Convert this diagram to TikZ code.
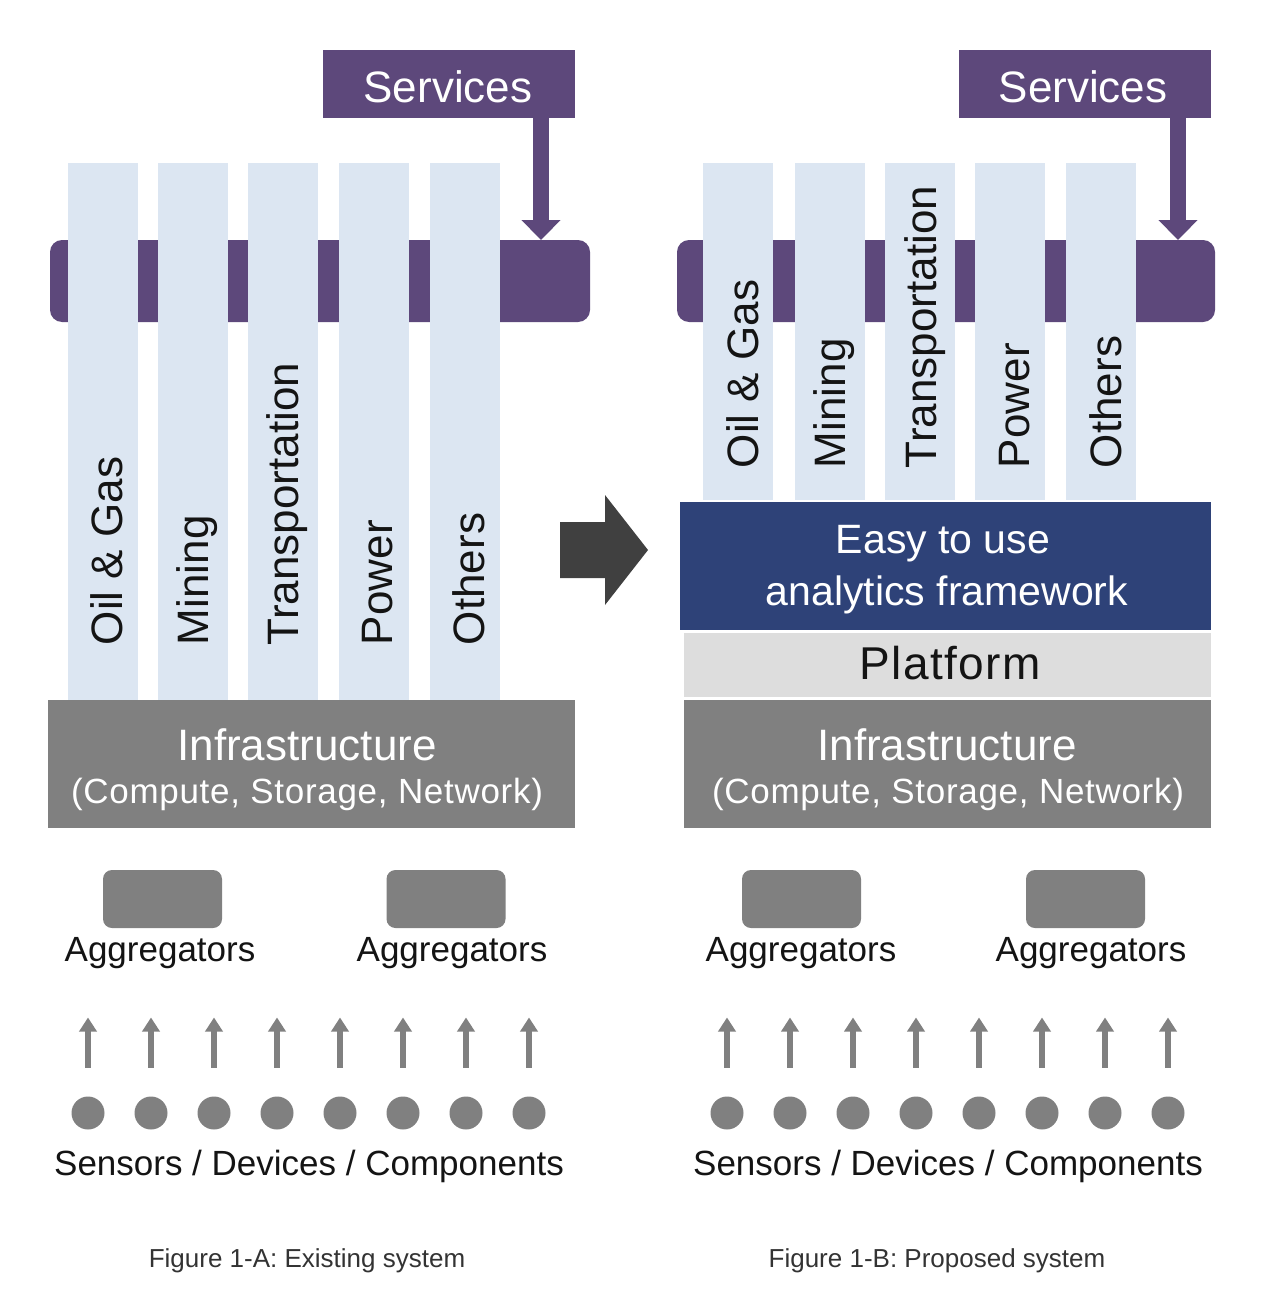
\documentclass[tikz,border=0pt]{standalone}
\usepackage{fontspec}
\setmainfont{Liberation Sans}
\usetikzlibrary{arrows.meta}
\definecolor{svcpurple}{RGB}{93,72,123}
\definecolor{colblue}{RGB}{220,230,242}
\definecolor{infgray}{RGB}{128,128,128}
\definecolor{darkblue}{RGB}{46,66,120}
\definecolor{platgray}{RGB}{221,221,221}
\definecolor{bigarrowc}{RGB}{64,64,64}
\definecolor{captext}{RGB}{51,51,51}
\definecolor{labtext}{RGB}{20,20,20}
\newcommand\myfs[1]{\fontsize{#1}{#1}\selectfont}
\begin{document}
\begin{tikzpicture}[x=1pt,y=-1pt,
  box/.style={draw=none, inner sep=0pt, outer sep=0pt},
  svcbox/.style={box, fill=svcpurple, text=white, minimum width=252pt, minimum height=68pt, font=\myfs{44}},
  barbox/.style={box, fill=svcpurple, rounded corners=12pt, minimum height=82pt},
  colbox/.style={box, fill=colblue, minimum width=70pt},
  coltext/.style={box, rotate=90, anchor=west, text=labtext, font=\myfs{44}},
  infbox/.style={box, fill=infgray, minimum width=527pt, minimum height=128pt},
  inftitle/.style={box, text=white, font=\myfs{44}},
  infsub/.style={box, text=white, font={\myfs{35}\addfontfeature{LetterSpace=2}}},
  aggbox/.style={box, fill=infgray, rounded corners=9pt, minimum width=119pt, minimum height=58pt},
  labtxt/.style={box, text=labtext, font=\myfs{35}},
  sensor/.style={box, circle, fill=infgray, minimum size=33pt},
  svcarr/.style={draw=svcpurple, line width=16pt, -{Triangle[width=38pt,length=20pt]}},
  sensarr/.style={draw=infgray, line width=6pt, -{Triangle[width=17pt,length=14pt]}},
  captxt/.style={box, text=captext, font=\myfs{26}}
]
\useasboundingbox[fill=white] (0,0) rectangle (1280,1308);

% ---------------- Left panel ----------------
\node[svcbox] (svcL) at (449,84) {};
\node[inftitle] (svcLt) at (448,87) {Services};
\node[barbox, minimum width=540pt] (barL) at (320,281) {};
\coordinate (tipL) at (541,240);
\draw[svcarr] (svcL.south -| tipL) -- (tipL);
\foreach \x/\t [count=\i] in {102.5/Oil \& Gas, 193/Mining, 283/Transportation, 374/Power, 465/Others} {
  \node[colbox, minimum height=537pt] (cL\i) at (\x,431.5) {};
  \node[coltext] (tL\i) at (\x+4,645) {\t};
}
\node[infbox] (infL) at (311.5,764) {};
\node[inftitle] (infLt) at (307,745) {Infrastructure};
\node[infsub] (infLs) at (307,794) {(Compute, Storage, Network)};
\node[aggbox] (agL1) at (162.5,899) {};
\node[aggbox] (agL2) at (446,899) {};
\node[labtxt] (agL1t) at (160,953) {Aggregators};
\node[labtxt] (agL2t) at (452,953) {Aggregators};
\foreach \i in {0,...,7} {
  \node[sensor] (sL\i) at (88+63*\i,1113) {};
  \draw[sensarr] ([yshift=29pt]sL\i.north) -- ++(0,-50);
}
\node[labtxt] (sensL) at (309,1166) {Sensors / Devices / Components};
\node[captxt] (capL) at (307,1261) {Figure 1-A: Existing system};

% ---------------- Big arrow ----------------
\fill[bigarrowc] (560,522) -- (605,522) -- (605,495) -- (648,550) -- (605,605) -- (605,578) -- (560,578) -- cycle;

% ---------------- Right panel ----------------
\node[svcbox] (svcR) at (1085,84) {};
\node[inftitle] (svcRt) at (1083,87) {Services};
\node[barbox, minimum width=538pt] (barR) at (946,281) {};
\coordinate (tipR) at (1178,240);
\draw[svcarr] (svcR.south -| tipR) -- (tipR);
\foreach \x/\t [count=\i] in {738/Oil \& Gas, 829.5/Mining, 920/Transportation, 1010/Power, 1100.5/Others} {
  \node[colbox, minimum height=337pt] (cR\i) at (\x,331.5) {};
  \node[coltext] (tR\i) at (\x+5,468) {\t};
}
\node[box, fill=darkblue, minimum width=531pt, minimum height=128pt] (fw) at (945.5,566) {};
\node[inftitle, font=\myfs{41}] (fwt1) at (943,544) {Easy to use};
\node[inftitle, font=\myfs{41}] (fwt2) at (947,595) {analytics framework};
\node[box, fill=platgray, minimum width=527pt, minimum height=64pt] (plat) at (947.5,665) {};
\node[box, text=labtext, font={\myfs{46}\addfontfeature{LetterSpace=3}}] (platt) at (950,663) {Platform};
\node[infbox] (infR) at (947.5,764) {};
\node[inftitle] (infRt) at (947,745) {Infrastructure};
\node[infsub] (infRs) at (948,794) {(Compute, Storage, Network)};
\node[aggbox] (agR1) at (801.5,899) {};
\node[aggbox] (agR2) at (1085.5,899) {};
\node[labtxt] (agR1t) at (801,953) {Aggregators};
\node[labtxt] (agR2t) at (1091,953) {Aggregators};
\foreach \i in {0,...,7} {
  \node[sensor] (sR\i) at (727+63*\i,1113) {};
  \draw[sensarr] ([yshift=29pt]sR\i.north) -- ++(0,-50);
}
\node[labtxt] (sensR) at (948,1166) {Sensors / Devices / Components};
\node[captxt] (capR) at (937,1261) {Figure 1-B: Proposed system};
\end{tikzpicture}
\end{document}
